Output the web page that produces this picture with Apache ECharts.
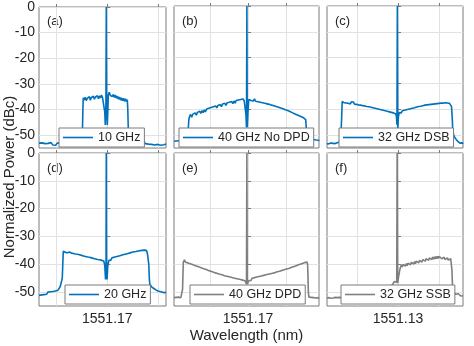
<!DOCTYPE html>
<html>
<head>
<meta charset="utf-8">
<script src="https://cdn.jsdelivr.net/npm/echarts@6/dist/echarts.min.js"></script>
<style>
  html, body { margin: 0; padding: 0; background: #fff; }
  #chart { width: 474px; height: 346px; }
</style>
</head>
<body>
<div id="chart"></div>
<script>
// Optical spectra, x = wavelength offset from the centre wavelength (pm), y = power (dBc)
const PANEL_TAGS = ['(a)', '(b)', '(c)', '(d)', '(e)', '(f)'];
const SERIES_NAMES = ['10 GHz', '40 GHz No DPD', '32 GHz DSB', '20 GHz', '40 GHz DPD', '32 GHz SSB'];
const CENTER_LABELS = ['1551.17', '1551.17', '1551.13'];
const X_TICKS = [-200, 0, 200];
const Y_TICKS = [-50, -40, -30, -20, -10, 0];
const X_RANGES = [[-270, 232], [-389, 373], [-346, 317]];
const Y_RANGE = [-55, 0];

const spec10G = [[-270,-53.1],[-264,-53.8],[-258,-53.0],[-252,-53.7],[-246,-53.3],[-240,-54.0],[-234,-53.2],[-228,-53.6],[-222,-52.9],[-216,-53.8],[-210,-53.3],[-204,-53.9],[-198,-53.1],[-192,-53.5],[-186,-53.0],[-170,-53.2],[-150,-53.0],[-130,-52.9],[-110,-52.5],[-101,-52.0],[-98,-47],[-96.5,-40],
  [-95,-35.4],[-91,-36.3],[-87,-35.2],[-83,-36.5],[-79,-35.6],[-75,-36.1],[-71,-35.0],[-67,-36.4],[-63,-35.3],[-59,-35.9],[-55,-34.8],[-51,-36.0],[-47,-35.1],[-43,-35.7],[-39,-34.6],[-35,-35.8],[-31,-34.7],[-27,-35.5],[-23,-34.3],[-19,-35.3],[-15,-34.6],
  [-12,-36],[-10,-41],[-8,-46],[-5.5,-38],[-4,0],[-2.5,-38],[0,-46],[2,-41],
  [4,-34.2],[8,-33.3],[12,-34.5],[16,-33.8],[20,-34.9],[24,-34.1],[28,-35.3],[32,-34.4],[36,-35.6],[40,-34.8],[44,-36.0],[48,-35.1],[52,-36.3],[56,-35.4],[60,-36.6],[64,-35.6],[68,-36.8],[72,-35.8],[76,-36.9],[79,-36.1],[81,-40],[83,-48],
  [87,-51.0],[93,-51.6],[101,-52.0],[109,-52.3],[117,-52.1],[125,-52.6],[133,-52.4],[139,-53.0],[145,-52.5],[151,-53.3],[157,-52.7],[163,-53.5],[169,-52.9],[175,-53.6],[181,-53.0],[187,-53.8],[193,-53.1],[199,-53.6],[205,-53.0],[211,-53.9],[217,-53.2],[223,-53.7],[229,-53.1],[232,-53.5]];

const spec40GNoDpd = [[-389,-52.4],[-383,-53.0],[-377,-52.3],[-371,-52.9],[-365,-52.2],[-359,-52.7],[-350,-52.1],[-340,-51.8],[-330,-51.6],[-320,-50.8],[-314,-47.5],[-311,-44],[-308,-43.0],
  [-302,-42.0],[-296,-43.1],[-290,-41.9],[-284,-42.6],[-278,-41.4],[-272,-42.3],[-266,-41.2],[-260,-41.9],[-254,-40.8],[-248,-41.6],[-242,-40.5],[-236,-41.3],[-230,-40.2],[-224,-41.0],[-218,-39.9],[-212,-40.6],[-206,-39.6],[-200,-40.3],[-194,-39.3],[-188,-40.0],[-182,-39.0],[-176,-39.7],[-170,-38.7],[-164,-39.5],[-158,-38.5],[-152,-39.2],[-146,-38.2],[-140,-39.0],[-134,-38.0],[-128,-38.7],[-122,-37.7],[-116,-38.5],[-110,-37.5],[-104,-38.2],[-98,-37.3],[-92,-38.0],[-86,-37.0],[-80,-37.8],[-74,-36.8],[-68,-37.6],[-62,-36.6],[-56,-37.3],[-50,-36.4],[-44,-37.1],[-38,-36.2],[-32,-36.9],[-26,-36.0],[-20,-36.8],[-16,-37.5],
  [-11,-42],[-8,-47],[-6,0],[-4,-47],[-1,-42],
  [4,-36.2],[10,-35.8],[16,-36.6],[22,-35.9],[28,-36.8],[34,-36.0],[40,-36.9],[46,-36.2],[52,-37.1],[58,-36.4],[64,-37.3],[70,-36.6],[76,-37.5],[82,-36.8],[88,-37.7],[94,-37.0],[100,-37.9],[106,-37.2],[112,-38.1],[118,-37.4],[124,-38.4],[130,-37.7],[136,-38.6],[142,-38.0],[148,-38.9],[154,-38.3],[160,-39.2],[166,-38.6],[172,-39.5],[178,-38.9],[184,-39.8],[190,-39.3],[196,-40.2],[202,-39.6],[208,-40.5],[214,-40.0],[220,-40.9],[226,-40.4],[232,-41.3],[238,-40.8],[244,-41.7],[250,-41.2],[256,-42.1],[262,-41.6],[268,-42.5],[274,-42.0],[280,-42.9],[286,-42.4],[292,-43.3],[298,-42.8],[303,-44],[307,-48],
  [311,-50.8],[316,-51.3],[322,-51.7],[328,-52.1],[334,-51.6],[340,-52.2],[346,-51.7],[352,-52.4],[358,-51.9],[364,-52.5],[370,-52.0],[373,-52.3]];

const spec32GDsb = [[-346,-53.4],[-341,-54.0],[-336,-53.3],[-331,-53.8],[-326,-53.1],[-321,-53.7],[-316,-53.2],[-311,-53.9],[-306,-53.3],[-301,-53.6],[-296,-53.0],[-291,-53.5],[-286,-52.8],[-280,-52.2],[-277,-48],[-274,-42],[-272,-37.0],
  [-267,-36.6],[-262,-37.5],[-257,-36.8],[-252,-37.6],[-247,-36.9],[-242,-37.7],[-237,-37.0],[-232,-37.9],[-227,-37.1],[-222,-37.8],[-217,-37.2],[-212,-38.0],[-207,-37.3],[-202,-38.1],[-197,-37.5],[-192,-38.3],[-187,-37.6],[-182,-38.4],[-177,-37.8],[-172,-38.6],[-167,-37.9],[-162,-38.7],[-157,-38.1],[-152,-38.9],[-147,-38.2],[-142,-39.0],[-137,-38.4],[-132,-39.2],[-127,-38.6],[-122,-39.4],[-117,-38.8],[-112,-39.6],[-107,-39.0],[-102,-39.8],[-97,-39.2],[-92,-40.0],[-87,-39.4],[-82,-40.2],[-77,-39.6],[-72,-40.4],[-67,-39.8],[-62,-40.6],[-57,-40.0],[-52,-40.8],[-47,-40.2],[-42,-41.0],[-37,-40.4],[-32,-41.2],[-27,-40.6],[-22,-41.4],[-17,-40.9],[-12,-41.7],
  [-8,-42.5],[-5,-46],[-3,0],[-1,-48],[2,-43],
  [6,-41.3],[11,-40.7],[16,-41.4],[21,-40.6],[26,-41.2],[31,-40.4],[36,-41.0],[41,-40.2],[46,-40.8],[51,-40.0],[56,-40.6],[61,-39.8],[66,-40.4],[71,-39.6],[76,-40.1],[81,-39.4],[86,-39.9],[91,-39.1],[96,-39.7],[101,-38.9],[106,-39.5],[111,-38.8],[116,-39.4],[121,-38.6],[126,-39.2],[131,-38.4],[136,-39.1],[141,-38.3],[146,-39.0],[151,-38.2],[156,-38.9],[161,-38.1],[166,-38.8],[171,-38.0],[176,-38.7],[181,-37.9],[186,-38.6],[191,-37.8],[196,-38.5],[201,-37.7],[206,-38.4],[211,-37.6],[216,-38.3],[221,-37.6],[226,-38.2],[231,-37.5],[236,-38.2],[241,-37.6],[246,-38.3],[251,-37.7],[256,-38.4],[261,-38.9],[265,-44],[267,-48.5],
  [270,-49.6],[274,-50.5],[278,-51.2],[282,-51.5],[286,-52.1],[290,-52.3],[294,-52.7],[298,-52.6],[302,-53.1],[306,-52.9],[310,-53.3],[314,-53.0],[317,-53.4]];

const spec20G = [[-270,-51.2],[-265,-50.5],[-260,-51.0],[-255,-50.3],[-250,-50.9],[-245,-50.2],[-240,-50.8],[-235,-50.0],[-230,-50.6],[-225,-49.9],[-220,-50.5],[-215,-49.8],[-210,-50.3],[-205,-49.6],[-200,-50.1],[-195,-49.3],[-190,-48.8],[-186,-48.0],[-182,-47.3],[-178,-45],[-176,-40],[-174,-35.3],
  [-170,-34.8],[-166,-35.7],[-162,-35.0],[-158,-35.9],[-154,-35.2],[-150,-35.6],[-146,-35.0],[-142,-36.0],[-138,-35.3],[-134,-36.1],[-130,-35.4],[-126,-36.3],[-122,-35.6],[-118,-36.4],[-114,-35.8],[-110,-36.6],[-106,-36.0],[-102,-36.8],[-98,-36.2],[-94,-37.0],[-90,-36.4],[-86,-37.2],[-82,-36.6],[-78,-37.4],[-74,-36.8],[-70,-37.5],[-66,-37.0],[-62,-37.7],[-58,-37.1],[-54,-37.9],[-50,-37.3],[-46,-38.1],[-42,-37.5],[-38,-38.3],[-34,-37.7],[-30,-38.4],[-26,-37.9],[-22,-38.6],[-18,-38.1],[-14,-38.8],
  [-10,-40.5],[-7,-45.5],[-5,-40],[-4,0],[-3,-40],[-1,-45.5],[2,-40.5],
  [6,-38.6],[10,-37.9],[14,-38.5],[18,-37.7],[22,-38.3],[26,-37.5],[30,-38.1],[34,-37.3],[38,-37.9],[42,-37.1],[46,-37.7],[50,-36.9],[54,-37.5],[58,-36.7],[62,-37.3],[66,-36.5],[70,-37.1],[74,-36.3],[78,-36.9],[82,-36.1],[86,-36.7],[90,-35.9],[94,-36.5],[98,-35.7],[102,-36.3],[106,-35.5],[110,-36.2],[114,-35.4],[118,-36.0],[122,-35.2],[126,-35.9],[130,-35.1],[134,-35.8],[138,-35.0],[142,-35.7],[146,-34.9],[150,-35.6],[154,-35.0],[158,-35.8],[161,-36.2],[164,-40],[166,-45],
  [168,-47.2],[172,-47.6],[176,-48.2],[180,-48.0],[184,-48.7],[188,-48.5],[192,-49.2],[196,-48.9],[200,-49.6],[204,-49.1],[208,-49.8],[212,-49.3],[216,-50.0],[220,-49.5],[224,-50.2],[228,-49.7],[232,-50.1]];

const spec40GDpd = [[-389,-52.0],[-383,-52.6],[-377,-51.9],[-371,-52.5],[-365,-51.8],[-359,-52.4],[-353,-52.0],[-347,-51.5],[-344,-49],[-342,-44],[-340,-39.2],
  [-334,-38.4],[-328,-39.3],[-322,-38.6],[-316,-39.5],[-310,-38.9],[-304,-39.8],[-298,-39.2],[-292,-40.1],[-286,-39.5],[-280,-40.4],[-274,-39.8],[-268,-40.7],[-262,-40.1],[-256,-41.0],[-250,-40.4],[-244,-41.3],[-238,-40.7],[-232,-41.6],[-226,-41.0],[-220,-41.9],[-214,-41.3],[-208,-42.2],[-202,-41.6],[-196,-42.5],[-190,-41.9],[-184,-42.8],[-178,-42.2],[-172,-43.1],[-166,-42.5],[-160,-43.3],[-154,-42.8],[-148,-43.6],[-142,-43.0],[-136,-43.8],[-130,-43.3],[-124,-44.1],[-118,-43.5],[-112,-44.3],[-106,-43.7],[-100,-44.5],[-94,-43.9],[-88,-44.7],[-82,-44.1],[-76,-44.9],[-70,-44.3],[-64,-45.1],[-58,-44.5],[-52,-45.3],[-46,-44.7],[-40,-45.5],[-34,-44.9],[-28,-45.7],[-22,-45.2],[-16,-45.9],
  [-10,-46.6],[-8,-47.2],[-6,0],[-4,-47.2],[-1,-46.5],
  [4,-45.9],[10,-45.2],[16,-45.8],[22,-45.0],[28,-45.6],[34,-44.8],[40,-45.4],[46,-44.6],[52,-45.2],[58,-44.4],[64,-45.0],[70,-44.2],[76,-44.8],[82,-44.0],[88,-44.6],[94,-43.8],[100,-44.4],[106,-43.6],[112,-44.2],[118,-43.4],[124,-44.0],[130,-43.2],[136,-43.8],[142,-43.0],[148,-43.5],[154,-42.7],[160,-43.3],[166,-42.5],[172,-43.0],[178,-42.2],[184,-42.8],[190,-42.0],[196,-42.5],[202,-41.7],[208,-42.3],[214,-41.5],[220,-42.0],[226,-41.2],[232,-41.7],[238,-40.9],[244,-41.4],[250,-40.6],[256,-41.1],[262,-40.3],[268,-40.8],[274,-40.0],[280,-40.5],[286,-39.7],[292,-40.2],[298,-39.4],[304,-39.9],[310,-39.2],[313,-40.0],[315,-44],[317,-50],
  [320,-51.8],[326,-52.3],[332,-51.9],[338,-52.5],[344,-52.0],[350,-52.6],[356,-52.1],[362,-52.5],[368,-52.0],[373,-52.4]];

const spec32GSsb = [[-346,-52.1],[-341,-52.7],[-336,-52.0],[-331,-52.6],[-326,-52.2],[-321,-52.8],[-316,-52.1],[-311,-52.5],[-306,-51.9],[-301,-52.6],[-296,-52.0],[-291,-52.4],[-286,-51.9],[-281,-52.5],[-276,-52.0],[-200,-50.8],[-120,-49.8],[-60,-48.9],[-35,-48.0],[-24,-47.0],[-18,-46.2],[-13,-46.8],[-9,-46.0],[-6,-46.5],
  [-4,0],[-2,-46.8],[1,-45.5],[4,-44.0],[7,-42.8],[10,-41.6],[13,-41.0],
  [17,-40.2],[21,-41.0],[25,-40.1],[29,-40.8],[33,-39.9],[37,-40.6],[41,-39.7],[45,-40.5],[49,-39.6],[53,-40.3],[57,-39.4],[61,-40.2],[65,-39.3],[69,-40.0],[73,-39.2],[77,-39.9],[81,-39.0],[85,-39.8],[89,-38.9],[93,-39.6],[97,-38.7],[101,-39.5],[105,-38.6],[109,-39.3],[113,-38.4],[117,-39.2],[121,-38.3],[125,-39.0],[129,-38.1],[133,-38.9],[137,-38.0],[141,-38.7],[145,-37.8],[149,-38.6],[153,-37.7],[157,-38.4],[161,-37.5],[165,-38.3],[169,-37.4],[173,-38.2],[177,-37.3],[181,-38.1],[185,-37.2],[189,-38.0],[193,-37.1],[197,-37.9],[201,-37.1],[205,-37.8],[209,-37.2],[213,-38.0],[217,-37.3],[221,-38.1],[225,-37.5],[229,-38.3],[233,-37.6],[237,-38.4],[241,-37.7],[245,-38.5],[249,-37.8],[253,-38.6],[257,-38.0],[261,-38.7],[263,-42],[266,-48],
  [270,-50.0],[274,-50.6],[278,-50.2],[282,-50.8],[286,-50.4],[290,-51.0],[294,-50.6],[298,-51.2],[302,-50.8],[306,-51.4],[310,-51.0],[314,-51.5],[317,-51.3]];

const SPECTRA = [spec10G, spec40GNoDpd, spec32GDsb, spec20G, spec40GDpd, spec32GSsb];

// layout of the 2 x 3 panel grid (pixels)
const COLS = [{ left: 39, width: 127 }, { left: 174, width: 145 }, { left: 327, width: 136 }];
const ROWS = [{ top: 6, height: 142 }, { top: 153, height: 153 }];
const LEGEND_POS = [[59, 128], [179, 128], [339, 128], [65, 285], [190, 285], [341, 285]];
const LINE_COLORS = ['#0072BD', '#0072BD', '#0072BD', '#0072BD', '#7f7f7f', '#7f7f7f'];

const FONT = '"Liberation Sans", Arial, Helvetica, sans-serif';
const TEXT_COLOR = '#262626';
const BOX_COLOR = '#7a7a7a';
const GRID_COLOR = '#e2e2e2';

const grids = [], xAxes = [], yAxes = [], series = [], legends = [], graphics = [];

for (let i = 0; i < 6; i++) {
  const r = Math.floor(i / 3), c = i % 3;
  const col = COLS[c], row = ROWS[r];
  grids.push({
    left: col.left, top: row.top, width: col.width, height: row.height,
    show: true, borderColor: BOX_COLOR, borderWidth: 1, backgroundColor: '#fff'
  });
  xAxes.push({
    gridIndex: i, type: 'value', min: X_RANGES[c][0], max: X_RANGES[c][1],
    axisLine: { show: false },
    axisTick: { show: true, inside: true, length: 3, customValues: X_TICKS,
                lineStyle: { color: BOX_COLOR } },
    axisLabel: {
      show: r === 1, customValues: [0], margin: 6,
      formatter: () => CENTER_LABELS[c],
      fontSize: 14, color: TEXT_COLOR, fontFamily: FONT
    },
    splitLine: { show: true, lineStyle: { color: GRID_COLOR, width: 1 } },
    name: (r === 1 && c === 1) ? 'Wavelength (nm)' : '',
    nameLocation: 'middle', nameGap: 22,
    nameTextStyle: { fontSize: 15, color: TEXT_COLOR, fontFamily: FONT }
  });
  yAxes.push({
    gridIndex: i, type: 'value', min: Y_RANGE[0], max: Y_RANGE[1],
    axisLine: { show: false },
    axisTick: { show: true, inside: true, length: 3, customValues: Y_TICKS,
                lineStyle: { color: BOX_COLOR } },
    axisLabel: {
      show: c === 0, customValues: Y_TICKS, margin: 4,
      fontSize: 14, color: TEXT_COLOR, fontFamily: FONT
    },
    splitLine: { show: true, lineStyle: { color: GRID_COLOR, width: 1 } }
  });
  series.push({
    name: SERIES_NAMES[i], type: 'line', xAxisIndex: i, yAxisIndex: i,
    data: SPECTRA[i], symbol: 'none', showSymbol: false, clip: true,
    lineStyle: { color: LINE_COLORS[i], width: 1.6 },
    itemStyle: { color: LINE_COLORS[i] },
    animation: false
  });
  legends.push({
    data: [SERIES_NAMES[i]], left: LEGEND_POS[i][0], top: LEGEND_POS[i][1],
    orient: 'horizontal', backgroundColor: '#fff',
    borderColor: BOX_COLOR, borderWidth: 1, borderRadius: 0,
    padding: [3, 4, 3, 4], icon: 'rect', itemWidth: 30, itemHeight: 1.6, itemGap: 0,
    selectedMode: false,
    textStyle: { fontSize: 12.5, color: TEXT_COLOR, fontFamily: FONT }
  });
  graphics.push({
    type: 'text', left: col.left + 8, top: row.top + 9,
    style: { text: PANEL_TAGS[i], fontSize: 13, fill: TEXT_COLOR, fontFamily: FONT }
  });
}

graphics.push({
  type: 'text', x: 10, y: 177, rotation: Math.PI / 2,
  style: { text: 'Normalized Power (dBc)', fontSize: 15, fill: TEXT_COLOR, fontFamily: FONT,
           align: 'center', verticalAlign: 'middle' }
});

const chart = echarts.init(document.getElementById('chart'), null, { renderer: 'canvas' });
chart.setOption({
  animation: false,
  backgroundColor: '#fff',
  grid: grids, xAxis: xAxes, yAxis: yAxes, series: series, legend: legends,
  graphic: graphics
});
</script>
</body>
</html>
